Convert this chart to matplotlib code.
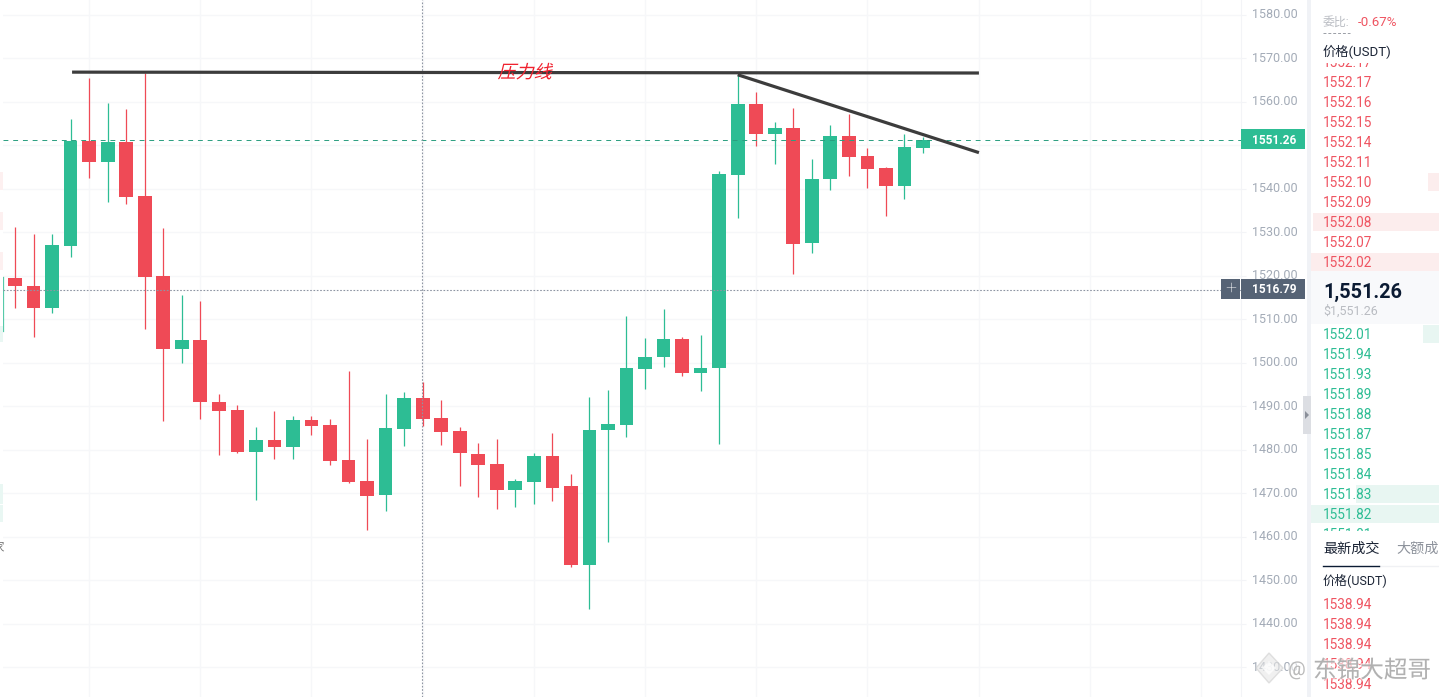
import matplotlib
matplotlib.use('Agg')
import matplotlib.pyplot as plt
from matplotlib.patches import Rectangle, Polygon
from matplotlib.patheffects import AbstractPathEffect, withStroke
from matplotlib.transforms import Affine2D, ScaledTranslation

plt.rcParams['font.family'] = ['Roboto', 'Noto Sans CJK SC', 'DejaVu Sans']

W, H = 1439, 697
GREEN = '#2DBD94'
RED = '#EF4A56'
AXIS_GREY = '#A3ABB7'

# candles, left to right
opens = [1519.5, 1517.7, 1512.6, 1526.9, 1551.0, 1546.1, 1550.7, 1538.3, 1520.0, 1503.2,
         1505.3, 1491.0, 1489.2, 1479.5, 1482.3, 1480.6, 1486.9, 1485.7, 1477.6, 1472.8,
         1469.6, 1484.8, 1491.9, 1487.3, 1484.3, 1479.0, 1476.7, 1470.8, 1472.6, 1478.6,
         1471.7, 1453.5, 1484.6, 1485.7, 1498.6, 1501.4, 1505.5, 1497.7, 1498.8, 1543.1,
         1559.5, 1552.6, 1553.9, 1527.5, 1542.2, 1552.1, 1547.5, 1544.8, 1540.6, 1549.3]
closes = [1517.7, 1512.6, 1527.0, 1551.0, 1546.1, 1550.7, 1538.1, 1519.8, 1503.2, 1505.3,
          1491.0, 1488.9, 1479.5, 1482.3, 1480.6, 1486.9, 1485.5, 1477.4, 1472.6, 1469.4,
          1485.0, 1491.9, 1487.1, 1484.1, 1479.3, 1476.5, 1470.8, 1472.8, 1478.6, 1471.2,
          1453.5, 1484.6, 1485.9, 1498.8, 1501.4, 1505.5, 1497.7, 1498.8, 1543.4, 1559.5,
          1552.6, 1553.9, 1527.3, 1542.2, 1552.1, 1547.3, 1544.5, 1540.6, 1549.6, 1551.26]
highs = [1531.2, 1529.6, 1529.6, 1556.0, 1565.5, 1559.7, 1558.3, 1566.6, 1530.9, 1515.6,
         1514.2, 1492.8, 1490.3, 1485.2, 1488.9, 1487.8, 1487.8, 1487.1, 1498.1, 1482.5,
         1492.8, 1493.3, 1495.6, 1491.5, 1485.2, 1481.6, 1482.5, 1473.3, 1479.3, 1483.9,
         1474.4, 1492.2, 1493.8, 1510.8, 1505.7, 1512.4, 1506.0, 1506.4, 1544.1, 1566.1,
         1562.2, 1555.3, 1558.5, 1546.8, 1554.6, 1557.2, 1549.3, 1545.0, 1552.6, 1551.9]
lows = [1512.6, 1506.0, 1511.5, 1524.4, 1542.4, 1536.9, 1536.5, 1507.8, 1486.6, 1500.0,
        1487.1, 1478.8, 1479.3, 1468.5, 1477.9, 1477.9, 1483.4, 1476.5, 1472.4, 1461.5,
        1465.9, 1480.9, 1485.5, 1481.1, 1471.7, 1469.1, 1466.4, 1466.8, 1467.5, 1468.2,
        1453.0, 1443.4, 1458.8, 1483.0, 1494.0, 1499.1, 1497.0, 1493.4, 1481.4, 1533.2,
        1549.8, 1545.7, 1520.4, 1525.3, 1539.7, 1542.9, 1540.1, 1533.7, 1537.6, 1548.2]
candle_slots = list(range(len(opens)))

# wick cut off by the left edge of the chart
stub_slot = -0.63
stub_range = [1519.8, 1507.3]

price_ticks = list(range(1430, 1590, 10))
time_slots = [4, 10, 16, 22, 28, 34, 40, 46, 52, 58, 64]

last_price = 1551.26
cross_price = 1516.79
cross_slot = 22

resistance_slots = [3.08, 52.02]
resistance_prices = [1566.8, 1566.6]
trend_slots = [39.0, 52.02]
trend_prices = [1566.2, 1548.3]

ask_prices = ['1552.17', '1552.17', '1552.16', '1552.15', '1552.14', '1552.11',
              '1552.10', '1552.09', '1552.08', '1552.07', '1552.02']
bid_prices = ['1552.01', '1551.94', '1551.93', '1551.89', '1551.88', '1551.87',
              '1551.85', '1551.84', '1551.83', '1551.82', '1551.81']
trade_prices = ['1538.94'] * 5


class Slant(AbstractPathEffect):
    # the CJK fonts have no italic, so lean the glyphs over
    def draw_path(self, renderer, gc, tpath, affine, rgbFace=None):
        renderer.draw_path(gc, tpath, Affine2D().skew_deg(14, 0) + affine, rgbFace)


fig = plt.figure(figsize=(W / 100, H / 100), dpi=100, facecolor='white')

# chart, price 1580 sits on y=14.7 and 4.351 px per unit
ax = fig.add_axes([3 / W, 0, (1241 - 3) / W, 1])
ax.set_xlim((3 - 15) / 18.53, (1241 - 15) / 18.53)
ax.set_ylim(1580 - (H - 14.7) / 4.351, 1580 + 14.7 / 4.351)
for s in ['top', 'left', 'bottom']:
    ax.spines[s].set_visible(False)
ax.spines['right'].set_color('#F3F4F7')
ax.set_xticks(time_slots)
ax.tick_params(axis='x', length=0, labelbottom=False)
ax.yaxis.tick_right()
ax.set_yticks(price_ticks)
ax.set_yticklabels(['%.2f' % p for p in price_ticks], fontsize=9, color=AXIS_GREY)
ax.tick_params(axis='y', length=3.6, width=0.8, color='#F3F4F7', pad=4.3)
nudge = ScaledTranslation(0, 1.7 / 100, fig.dpi_scale_trans)
for t in ax.get_yticklabels():
    t.set_transform(t.get_transform() + nudge)
ax.grid(True, color='#F6F7F9', linewidth=1)
ax.set_axisbelow(True)

for i, o, c, h, l in zip(candle_slots, opens, closes, highs, lows):
    col = GREEN if c >= o else RED
    ax.plot([i, i], [l, h], color=col, linewidth=0.9, solid_capstyle='butt', zorder=3)
    ax.add_patch(Rectangle((i - 0.37, min(o, c)), 0.74, abs(c - o), facecolor=col, edgecolor='none', zorder=4))
ax.plot([stub_slot, stub_slot], stub_range, color=GREEN, linewidth=0.9, alpha=0.8, zorder=3)

ax.axhline(last_price, color='#2A9E80', linewidth=0.7, dashes=(5, 5), zorder=5)
ax.axhline(cross_price, color='#8E95A3', linewidth=0.8, dashes=(1.5, 1.5), zorder=6)
ax.axvline(cross_slot - 0.05, color='#8E95A3', linewidth=0.8, dashes=(1.5, 1.5), zorder=6)

ax.plot(resistance_slots, resistance_prices, color='#3C3C3C', linewidth=2.3, solid_capstyle='butt', zorder=7)
ax.plot(trend_slots, trend_prices, color='#3C3C3C', linewidth=2.3, solid_capstyle='butt', zorder=7)
ax.text(27.5, 1566.6, '压力线', color='#F0222F', fontsize=13, ha='center', va='center', zorder=8,
        path_effects=[Slant()])

# everything around the chart is placed in pixels
ui = fig.add_axes([0, 0, 1, 1])
ui.set_xlim(0, W)
ui.set_ylim(H, 0)
ui.axis('off')
ui.patch.set_alpha(0)


def box(x0, y0, x1, y1, col, **kw):
    ui.add_patch(Rectangle((x0, y0), x1 - x0, y1 - y0, facecolor=col, edgecolor='none', **kw))


def label(x, y, s, col, size=10, **kw):
    return ui.text(x, y, s, color=col, fontsize=size, va='center', **kw)


# scraps of the order book behind the chart
for y0, y1, col in [(172, 190, '#FDF0F0'), (212, 230, '#FDF0F0'), (252, 270, '#FDF0F0'),
                    (326, 342, '#E9F7F3'), (484, 504, '#E9F7F3'), (505, 522, '#E9F7F3')]:
    box(0, y0, 3, y1, col)
label(-9, 547, '家', '#777777', 9)

# price tags
box(1241, 129, 1305, 149, GREEN)
label(1252, 140, '%.2f' % last_price, 'white', 8.6, fontweight='bold')
box(1241, 279, 1305, 299, '#566375')
box(1221, 279, 1240, 299, '#566375')
label(1252, 289.5, '%.2f' % cross_price, 'white', 8.6, fontweight='bold')
label(1230.5, 289, '+', 'white', 14, ha='center', fontweight='light')

# right panel
box(1307, 0, W, H, 'white')
box(1307, 0, 1311, H, '#F0F2F6')
box(1303, 396, 1311, 434, '#DCDEE3')
ui.add_patch(Polygon([[1305, 411], [1305, 419], [1309, 415]], facecolor='#8A8F99', edgecolor='none'))

label(1323, 22, '委比:', '#B9BCC2', 8.6)
ui.plot([1323, 1350], [33, 33], color='#9A9EA6', linewidth=0.7, dashes=(3, 2))
label(1358, 22, '-0.67%', '#EF5461', 9.6)
label(1323, 52, '价格(USDT)', '#1C2536', 9.5)

for y0, y1, x0 in [(173, 191, 1428), (213, 231, 1313), (253, 271, 1311)]:
    box(x0, y0, W, y1, '#FCEDED')
for i, p in enumerate(ask_prices):
    t = label(1323, 63 + 20 * i, p, '#EF5461', 9.8)
    t.set_clip_path(Rectangle((1311, 63), 128, 215, transform=ui.transData))
    t.set_clip_on(True)

box(1311, 271, W, 324, '#F8F9FB')
label(1323, 292, '1,551.26', '#0B1B33', 14.3, fontweight='bold')
label(1323, 311, '$1,551.26', '#B9BCC2', 9)

for y0, y1, x0 in [(325, 343, 1423), (485, 503, 1356), (505, 523, 1311)]:
    box(x0, y0, W, y1, '#E8F6F2')
for i, p in enumerate(bid_prices):
    t = label(1323, 335 + 20 * i, p, '#2DBD94', 9.8)
    t.set_clip_path(Rectangle((1311, 325), 128, 206, transform=ui.transData))
    t.set_clip_on(True)

label(1323, 548.5, '最新成交', '#1C2536', 10.2)
label(1396, 548.5, '大额成交', '#8E939C', 10.2)
ui.plot([1379, W], [566, 566], color='#F0F1F4', linewidth=1)
ui.plot([1323, 1379], [566, 566], color='#0B1B33', linewidth=1)
label(1323, 581, '价格(USDT)', '#1C2536', 9)
for i, p in enumerate(trade_prices):
    label(1323, 605 + 20 * i, p, '#EF5461', 9.8)

# watermark
ui.add_patch(Polygon([[1269, 653], [1283, 668], [1269, 683], [1256, 668]], facecolor='#E6E6E6',
                     edgecolor='#CFCFCF', linewidth=1, alpha=0.6))
ui.add_patch(Polygon([[1269, 661], [1276, 668], [1269, 675], [1262, 668]], facecolor='white',
                     edgecolor='none', alpha=0.8))
halo = [withStroke(linewidth=2, foreground='white', alpha=0.6)]
label(1297, 670, '@', '#B5B5B5', 14, ha='center', alpha=0.9, path_effects=halo)
label(1313, 671, '东锦大超哥', '#A8A8A8', 17, alpha=0.85, path_effects=halo)

fig.savefig('out.png', dpi=100)
